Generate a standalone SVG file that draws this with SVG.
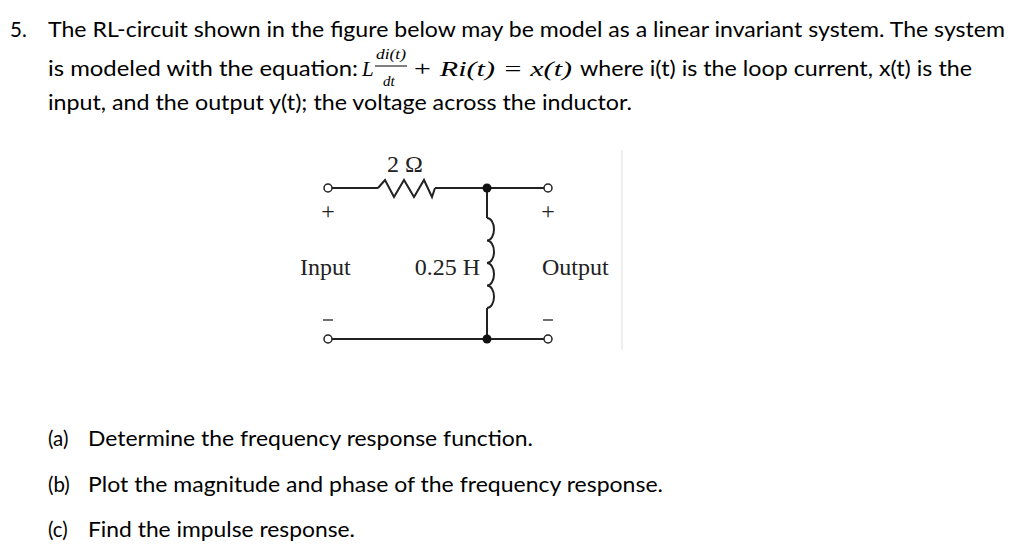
<svg xmlns="http://www.w3.org/2000/svg" width="1024" height="555" viewBox="0 0 1024 555">
<style>
.t{font-family:Lato,"Open Sans",sans-serif;font-size:20.5px;fill:#000}
.m{font-family:"Liberation Serif",serif;font-style:italic;font-size:21px;fill:#000}
.mi{font-family:"Liberation Serif",serif;font-style:italic;font-size:15px;fill:#000}
.c{font-family:"Liberation Serif",serif;font-size:24px;fill:#222}
.w{stroke:#222;stroke-width:2;fill:none}
.term{stroke:#222;stroke-width:1.5;fill:#fff}
</style>
<rect width="1024" height="555" fill="#fff"/>
<text class="t" x="10" y="37">5.</text>
<text class="t" x="48" y="37" textLength="957" lengthAdjust="spacingAndGlyphs">The RL-circuit shown in the figure below may be model as a linear invariant system.  The system</text>
<text class="t" x="48" y="76" textLength="310" lengthAdjust="spacingAndGlyphs">is modeled with the equation:</text>
<text class="m" x="362" y="76">L</text>
<text class="mi" x="376" y="59" textLength="30" lengthAdjust="spacingAndGlyphs">di(t)</text>
<line x1="375" y1="66" x2="407" y2="66" stroke="#000" stroke-width="1"/>
<text class="mi" x="383" y="86">dt</text>
<text class="m" x="412" y="76" textLength="160" lengthAdjust="spacingAndGlyphs">+ Ri(t) = x(t)</text>
<text class="t" x="580" y="76" textLength="392" lengthAdjust="spacingAndGlyphs">where i(t) is the loop current, x(t) is the</text>
<text class="t" x="48" y="110" textLength="584" lengthAdjust="spacingAndGlyphs">input, and the output y(t); the voltage across the inductor.</text>
<text class="t" x="48" y="446">(a)</text><text class="t" x="88" y="446" textLength="445" lengthAdjust="spacingAndGlyphs">Determine the frequency response function.</text>
<text class="t" x="48" y="492">(b)</text><text class="t" x="88" y="492" textLength="575" lengthAdjust="spacingAndGlyphs">Plot the magnitude and phase of the frequency response.</text>
<text class="t" x="48" y="537">(c)</text><text class="t" x="88" y="537" textLength="267" lengthAdjust="spacingAndGlyphs">Find the impulse response.</text>
<line x1="622" y1="150" x2="622" y2="350" stroke="#ddd" stroke-width="1"/>
<g id="connectors">
<path class="w" d="M332 188 H378 M435 188 H544 M487 188 V218 M487 308 V339 M332 339 H544"/>
</g>
<g id="resistor"><path class="w" d="M378 188 L385 180 L394 197 L404 180 L414 197 L424 180 L432 197 L435 188"/><text class="c" x="405" y="172" text-anchor="middle">2 Ω</text></g>
<g id="inductor"><path class="w" d="M487 218 a7 11.25 0 0 1 0 22.5 a7 11.25 0 0 1 0 22.5 a7 11.25 0 0 1 0 22.5 a7 11.25 0 0 1 0 22.5"/><text class="c" x="480" y="275" text-anchor="end">0.25 H</text></g>
<g id="nodes"><circle cx="487" cy="188" r="4.5" fill="#111"/><circle cx="487" cy="339" r="4.5" fill="#111"/></g>
<g id="input"><circle class="term" cx="328" cy="188" r="4"/><circle class="term" cx="328" cy="339" r="4"/><text class="c" x="328" y="219" text-anchor="middle">+</text><line x1="323" y1="320" x2="333" y2="320" stroke="#222" stroke-width="1.3"/><text class="c" x="300" y="275">Input</text></g>
<g id="output"><circle class="term" cx="548" cy="188" r="4"/><circle class="term" cx="548" cy="339" r="4"/><text class="c" x="548" y="219" text-anchor="middle">+</text><line x1="543" y1="320" x2="553" y2="320" stroke="#222" stroke-width="1.3"/><text class="c" x="542" y="275">Output</text></g>
</svg>
